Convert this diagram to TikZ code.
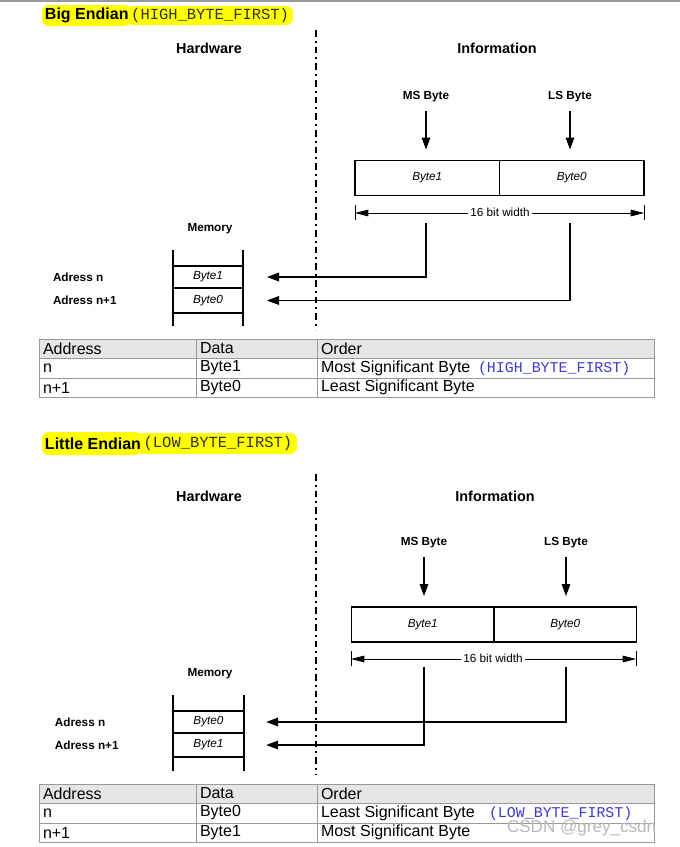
\documentclass[tikz,border=0pt]{standalone}
\usepackage{fontspec}
\setmainfont{Liberation Sans}
\setmonofont{Liberation Mono}
\usetikzlibrary{arrows.meta,positioning}
\definecolor{hl}{HTML}{FFFF00}
\definecolor{tgray}{HTML}{9A9A9A}
\definecolor{thead}{HTML}{E6E6E6}
\definecolor{monoc}{HTML}{333333}
\definecolor{blu}{HTML}{3B3BD0}
\tikzset{
 every node/.style={inner sep=0pt, outer sep=0pt},
 ttl/.style={font=\fontsize{12}{14}\selectfont\bfseries, anchor=west},
 ttm/.style={font=\fontsize{11.6}{14}\selectfont\ttfamily, text=monoc, anchor=west},
 hdr/.style={font=\fontsize{10.8}{13}\selectfont\bfseries},
 sml/.style={font=\fontsize{8.8}{10}\selectfont\bfseries},
 byt/.style={font=\fontsize{8.8}{10}\selectfont\itshape},
 dimtxt/.style={font=\fontsize{8.8}{10}\selectfont, fill=white, inner xsep=2pt, inner ysep=1pt},
 tcell/.style={font=\fontsize{12}{14}\selectfont, anchor=west},
 bluemono/.style={font=\fontsize{11.2}{14}\selectfont\ttfamily, text=blu, anchor=west},
 regbox/.style={draw, line width=1.1pt, minimum height=26.25pt},
 memcell/.style={minimum width=52.5pt, minimum height=16.5pt},
 memline/.style={line width=1.1pt},
 conn/.style={line width=1pt, -{Triangle[length=9pt,width=6.5pt]}},
 downarrow/.style={line width=0.8pt, -{Triangle[length=9pt,width=6.5pt]}},
 dimarrow/.style={line width=0.6pt, {Triangle[length=10pt,width=5pt]}-{Triangle[length=10pt,width=5pt]}},
 divider/.style={line width=1.2pt, dash pattern=on 5pt off 3pt on 1.5pt off 3pt},
 tgrid/.style={draw=tgray, line width=0.75pt},
}
\begin{document}
\begin{tikzpicture}[x=0.75pt,y=-0.75pt]
\useasboundingbox[fill=white] (0,0) rectangle (680,847);
% top rule
\draw[tgray, line width=1.2pt] (0,1) -- (680,1);

% ================= Big Endian =================
\fill[hl, rounded corners=5pt] (42,5) rectangle (131,26);
\fill[hl, rounded corners=5pt] (126,6) rectangle (293,25);
\node[ttl] (t1) at (45,15.5) {Big Endian};
\node[ttm, right=2pt of t1] (t1m) {(HIGH\_BYTE\_FIRST)};

\node[hdr] (hw1) at (209,48) {Hardware};
\node[hdr] (inf1) at (497,48) {Information};
\draw[divider] (316,30) -- (316,330);

\node[sml] (ms1) at (426,97) {MS Byte};
\node[sml] (ls1) at (570,97) {LS Byte};
\node[regbox, byt, minimum width=108.4pt] (ba1) at (427.25,178) {Byte1};
\node[regbox, byt, minimum width=108.4pt] (bb1) at (571.75,178) {Byte0};
\draw[downarrow] ([yshift=-6.5pt]ms1.south) -- ([yshift=8.25pt]ms1.south |- ba1.north);
\draw[downarrow] ([yshift=-6.5pt]ls1.south) -- ([yshift=8.25pt]ls1.south |- bb1.north);

\coordinate (dl1) at (355,213);
\coordinate (dr1) at (644,213);
\draw[line width=0.6pt] (355,205) -- (355,220) (644,205) -- (644,220);
\draw[dimarrow] (dl1) -- (dr1);
\node[dimtxt] (w1) at (500,212.5) {16 bit width};

\node[sml] (mem1) at (210,229) {Memory};
\draw[memline] (173,250) -- (173,326) (243,250) -- (243,326);
\draw[memline] (173,266) -- (243,266) (173,288) -- (243,288) (173,313) -- (243,313);
\node[memcell, byt] (mc1a) at (208,277) {Byte1};
\node[memcell, byt] (mc1b) at (208,300.5) {Byte0};
\node[sml, anchor=west] (ad1a) at (53,277) {Adress n};
\node[sml, anchor=west] (ad1b) at (53,300.5) {Adress n+1};

\draw[conn] ([yshift=-20.5pt]ms1.south |- ba1.south) |- ([xshift=18pt]mc1a.east);
\draw[conn] ([yshift=-20.5pt]ls1.south |- bb1.south) |- ([xshift=18pt]mc1b.east);

% table 1
\fill[thead] (39,339) rectangle (654,358);
\draw[tgrid] (39,339) rectangle (654,397);
\draw[tgrid] (39,358) -- (654,358) (39,378) -- (654,378) (196,339) -- (196,397) (317,339) -- (317,397);
\node[tcell] (h1a) at (43,348.5) {Address};
\node[tcell] (h1b) at (200,348.5) {Data};
\node[tcell] (h1c) at (321,348.5) {Order};
\node[tcell] (r1a) at (43,368) {n};
\node[tcell] (r1b) at (200,368) {Byte1};
\node[tcell] (r1c) at (321,368) {Most Significant Byte};
\node[bluemono] (r1d) at (478,369) {(HIGH\_BYTE\_FIRST)};
\node[tcell] (s1a) at (43,387.5) {n+1};
\node[tcell] (s1b) at (200,387.5) {Byte0};
\node[tcell] (s1c) at (321,387.5) {Least Significant Byte};

% ================= Little Endian =================
\fill[hl, rounded corners=5pt] (42,432) rectangle (142,455);
\fill[hl, rounded corners=5pt] (137,433) rectangle (297,454);
\node[ttl] (t2) at (45,443.5) {Little Endian};
\node[ttm, right=2pt of t2] (t2m) {(LOW\_BYTE\_FIRST)};

\node[hdr] (hw2) at (209,496) {Hardware};
\node[hdr] (inf2) at (495,496) {Information};
\draw[divider] (316,474) -- (316,775);

\node[sml] (ms2) at (424,543) {MS Byte};
\node[sml] (ls2) at (566,543) {LS Byte};
\node[regbox, byt, minimum width=106.9pt] (ba2) at (422.75,624.5) {Byte1};
\node[regbox, byt, minimum width=106.9pt] (bb2) at (565.25,624.5) {Byte0};
\draw[downarrow] ([yshift=-6.5pt]ms2.south) -- ([yshift=8.25pt]ms2.south |- ba2.north);
\draw[downarrow] ([yshift=-6.5pt]ls2.south) -- ([yshift=8.25pt]ls2.south |- bb2.north);

\coordinate (dl2) at (351,659);
\coordinate (dr2) at (636,659);
\draw[line width=0.6pt] (351,651) -- (351,666) (636,651) -- (636,666);
\draw[dimarrow] (dl2) -- (dr2);
\node[dimtxt] (w2) at (493,658.5) {16 bit width};

\node[sml] (mem2) at (210,674) {Memory};
\draw[memline] (173,695) -- (173,771) (244,695) -- (244,771);
\draw[memline] (173,711) -- (244,711) (173,733) -- (244,733) (173,757) -- (244,757);
\node[memcell, byt] (mc2a) at (208.5,722) {Byte0};
\node[memcell, byt] (mc2b) at (208.5,745) {Byte1};
\node[sml, anchor=west] (ad2a) at (55,722) {Adress n};
\node[sml, anchor=west] (ad2b) at (55,745.5) {Adress n+1};

\draw[conn] ([yshift=-18.5pt]ls2.south |- bb2.south) |- ([xshift=17pt]mc2a.east);
\draw[conn] ([yshift=-18.5pt]ms2.south |- ba2.south) |- ([xshift=17pt]mc2b.east);

% table 2
\fill[thead] (39,784) rectangle (654,803);
\draw[tgrid] (39,784) rectangle (654,842);
\draw[tgrid] (39,803) -- (654,803) (39,823) -- (654,823) (196,784) -- (196,842) (317,784) -- (317,842);
\node[tcell] (h2a) at (43,793.5) {Address};
\node[tcell] (h2b) at (200,793.5) {Data};
\node[tcell] (h2c) at (321,793.5) {Order};
\node[tcell] (r2a) at (43,813) {n};
\node[tcell] (r2b) at (200,813) {Byte0};
\node[tcell] (r2c) at (321,813) {Least Significant Byte};
\node[bluemono] (r2d) at (489,814) {(LOW\_BYTE\_FIRST)};
\node[tcell] (s2a) at (43,832.5) {n+1};
\node[tcell] (s2b) at (200,832.5) {Byte1};
\node[tcell] (s2c) at (321,832.5) {Most Significant Byte};

\node[font=\fontsize{12.8}{14}\selectfont, text=gray!55, anchor=west] (wm) at (507,828) {CSDN @grey\_csdn};
\end{tikzpicture}
\end{document}
